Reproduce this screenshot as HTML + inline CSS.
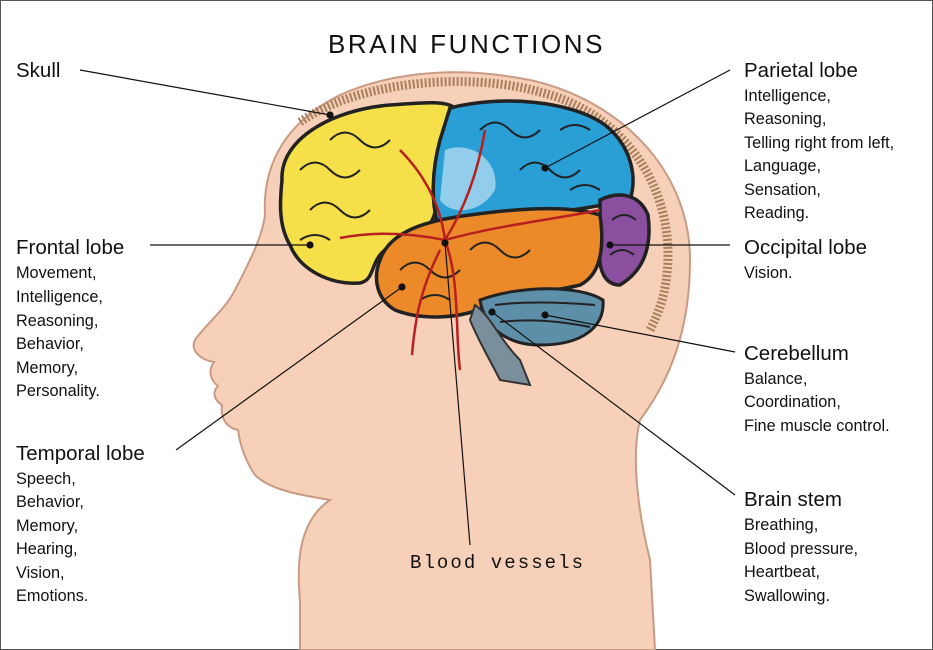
<!DOCTYPE html>
<html><head><meta charset="utf-8"><style>
html,body{margin:0;padding:0;background:#fff}
svg{display:block}
text{font-family:"Liberation Sans",sans-serif;fill:#111}
.h{font-size:20.5px}
.b{font-size:16.3px}
</style></head><body>
<svg width="933" height="650" viewBox="0 0 933 650" xmlns="http://www.w3.org/2000/svg">
<rect x="0.5" y="0.5" width="932" height="649" fill="#fff" stroke="#555"/>
<path d="M300,650 L300,600 C296,560 300,520 330,500 C300,495 270,490 255,475 C245,460 240,445 238,430 C228,428 220,420 222,405 C214,400 212,392 218,386 C210,380 208,370 214,362 C200,360 190,350 195,340 C205,325 225,310 235,290 C245,270 262,240 265,215 C262,160 290,120 340,95 C400,68 470,68 530,80 C620,100 690,170 690,260 C690,330 670,380 640,420 C630,460 640,520 650,560 L655,650 Z" fill="#f6d0b8" stroke="#c99a84" stroke-width="2"/>
<path d="M300,122 C360,80 470,72 540,92 C620,112 670,180 668,260 C666,295 660,310 650,330" fill="none" stroke="#a8805c" stroke-width="9" stroke-dasharray="2 2"/>
<path d="M282,180 C280,140 330,110 390,105 C420,103 445,100 455,108 C445,140 430,170 435,200 C440,230 410,240 385,250 C370,262 375,280 360,283 C330,285 300,270 290,245 C278,225 280,200 282,180 Z" fill="#f6e04a" stroke="#222" stroke-width="3.5"/>
<path d="M450,108 C500,95 570,100 605,125 C630,145 638,175 630,200 C600,205 560,215 520,212 C480,215 450,225 440,230 C430,205 432,170 440,140 Z" fill="#2a9fd6" stroke="#222" stroke-width="3.5"/>
<path d="M445,150 C470,140 500,160 495,190 C480,215 450,215 440,200 Z" fill="#bfe3f3" opacity=".7"/>
<path d="M600,200 C620,190 640,195 648,215 C652,245 645,270 620,285 C605,285 598,270 600,250 Z" fill="#8a4f9e" stroke="#222" stroke-width="3.5"/>
<path d="M380,260 C390,230 430,220 470,215 C520,208 570,205 600,215 C605,250 600,275 580,285 C540,295 520,290 490,305 C460,320 420,320 395,310 C378,300 372,280 380,260 Z" fill="#ec8a2a" stroke="#222" stroke-width="3.5"/>
<path d="M480,300 C520,285 580,285 603,300 C605,325 585,345 540,345 C510,345 485,330 480,300 Z" fill="#5d8fa8" stroke="#222" stroke-width="3"/>
<path d="M475,305 C490,315 500,340 520,360 L530,385 L500,380 C490,360 478,340 470,320 Z" fill="#7a8f9c" stroke="#333" stroke-width="2"/>
<g fill="none" stroke="#222" stroke-width="2">
<path d="M300,170 q15,-15 30,0 q15,15 30,0 M310,210 q15,-15 30,0 q15,15 30,0 M330,140 q15,-15 30,0 q15,15 30,0 M300,240 q15,-10 30,0"/>
<path d="M480,130 q15,-15 30,0 q15,15 30,0 M520,170 q15,-15 30,0 q15,15 30,0 M560,130 q15,-10 30,0 M570,190 q15,-10 30,0"/>
<path d="M400,270 q15,-15 30,0 q15,15 30,0 M470,250 q15,-15 30,0 q15,15 30,0 M420,300 q15,-10 30,0"/>
<path d="M612,220 q12,-10 24,0 M610,255 q12,-10 24,0"/>
<path d="M495,305 q40,-5 100,0 M500,322 q40,-5 90,5"/>
</g>
<g fill="none" stroke="#b82020" stroke-width="2.5">
<path d="M445,240 C420,235 380,230 340,238 M445,240 C440,200 420,170 400,150 M445,240 C470,200 480,160 485,130 M445,240 C500,225 550,220 600,210 M445,240 C460,280 455,330 460,370 M440,250 C420,290 415,320 412,355"/>
</g>
<g stroke="#111" stroke-width="1.2" fill="#111">
<line x1="80" y1="70" x2="330" y2="115"/><circle cx="330" cy="115" r="3"/>
<line x1="150" y1="245" x2="310" y2="245"/><circle cx="310" cy="245" r="3"/>
<line x1="176" y1="450" x2="402" y2="287"/><circle cx="402" cy="287" r="3"/>
<line x1="730" y1="70" x2="545" y2="168"/><circle cx="545" cy="168" r="3"/>
<line x1="730" y1="245" x2="610" y2="245"/><circle cx="610" cy="245" r="3"/>
<line x1="735" y1="352" x2="545" y2="315"/><circle cx="545" cy="315" r="3"/>
<line x1="735" y1="495" x2="492" y2="312"/><circle cx="492" cy="312" r="3"/>
<line x1="470" y1="545" x2="445" y2="243"/><circle cx="445" cy="243" r="3"/>
</g>
<text x="466" y="53" text-anchor="middle" font-size="26" letter-spacing="1.5" textLength="276">BRAIN FUNCTIONS</text>
<text class="h" x="16" y="77">Skull</text>
<text class="h" x="16" y="254">Frontal lobe</text>
<g class="b"><text x="16" y="278">Movement,</text><text x="16" y="302">Intelligence,</text><text x="16" y="326">Reasoning,</text><text x="16" y="349">Behavior,</text><text x="16" y="373">Memory,</text><text x="16" y="396">Personality.</text></g>
<text class="h" x="16" y="460">Temporal lobe</text>
<g class="b"><text x="16" y="484">Speech,</text><text x="16" y="507">Behavior,</text><text x="16" y="531">Memory,</text><text x="16" y="554">Hearing,</text><text x="16" y="578">Vision,</text><text x="16" y="601">Emotions.</text></g>
<text class="h" x="744" y="77">Parietal lobe</text>
<g class="b"><text x="744" y="101">Intelligence,</text><text x="744" y="124">Reasoning,</text><text x="744" y="148">Telling right from left,</text><text x="744" y="171">Language,</text><text x="744" y="195">Sensation,</text><text x="744" y="218">Reading.</text></g>
<text class="h" x="744" y="254">Occipital lobe</text>
<text class="b" x="744" y="278">Vision.</text>
<text class="h" x="744" y="360">Cerebellum</text>
<g class="b"><text x="744" y="384">Balance,</text><text x="744" y="407">Coordination,</text><text x="744" y="431">Fine muscle control.</text></g>
<text class="h" x="744" y="506">Brain stem</text>
<g class="b"><text x="744" y="530">Breathing,</text><text x="744" y="554">Blood pressure,</text><text x="744" y="577">Heartbeat,</text><text x="744" y="601">Swallowing.</text></g>
<text x="410" y="568" textLength="173" style="font-family:'Liberation Mono',monospace;font-size:19px">Blood vessels</text>
</svg>
</body></html>
